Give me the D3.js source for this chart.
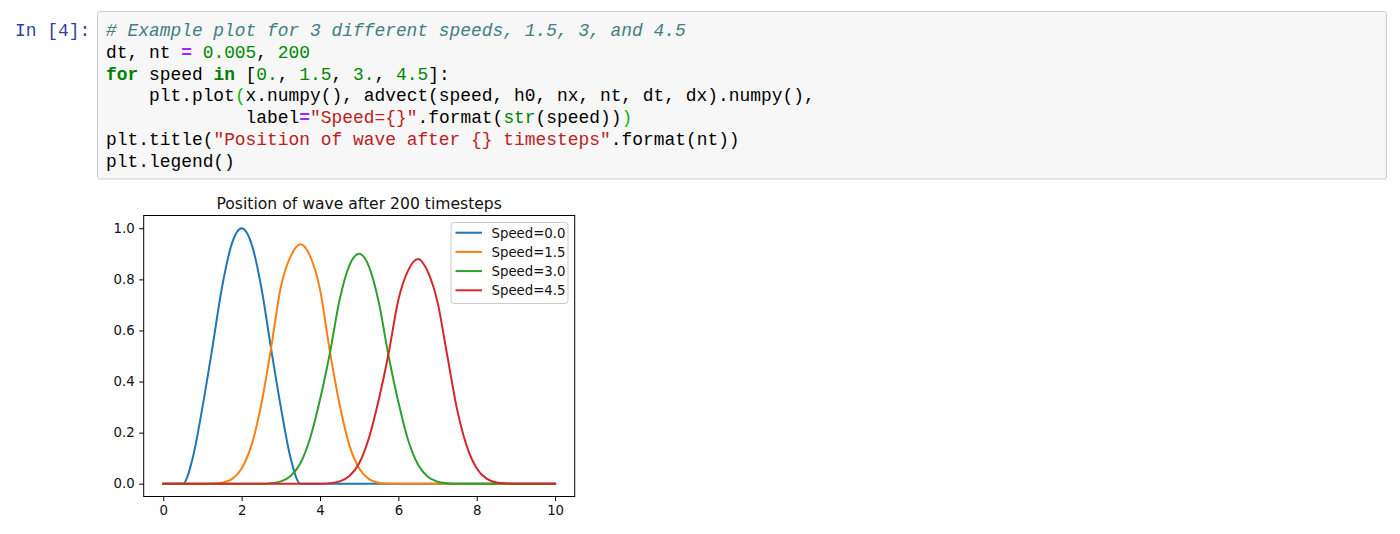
<!DOCTYPE html>
<html>
<head>
<meta charset="utf-8">
<script src="https://cdnjs.cloudflare.com/ajax/libs/d3/7.8.5/d3.min.js"></script>
<style>
body { margin: 0; background: #fff; }
svg text { white-space: pre; }
</style>
</head>
<body>
<svg id="page" width="1400" height="534"></svg>
<script>
// x grid of the plotted arrays
var xs = [0, 0.25, 0.5, 0.75, 1, 1.25, 1.5, 1.75, 2, 2.25, 2.5, 2.75, 3, 3.25, 3.5, 3.75,
          4, 4.25, 4.5, 4.75, 5, 5.25, 5.5, 5.75, 6, 6.25, 6.5, 6.75, 7, 7.25, 7.5, 7.75,
          8, 8.25, 8.5, 8.75, 9, 9.25, 9.5, 9.75, 10];

// wave height, one array per speed
var speed00 = [0, 0, 0, 0.10, 0.30, 0.53, 0.77, 0.94, 1.0, 0.94, 0.77, 0.53, 0.30, 0.10, 0,
               0, 0, 0, 0, 0, 0, 0, 0, 0, 0, 0, 0, 0, 0, 0, 0, 0, 0, 0, 0, 0, 0, 0, 0, 0, 0];
var speed15 = [0, 0, 0, 0, 0, 0.001, 0.004, 0.018, 0.06, 0.15, 0.31, 0.53, 0.77, 0.89, 0.937,
               0.89, 0.76, 0.52, 0.31, 0.15, 0.06, 0.018, 0.004, 0.001,
               0, 0, 0, 0, 0, 0, 0, 0, 0, 0, 0, 0, 0, 0, 0, 0, 0];
var speed30 = [0, 0, 0, 0, 0, 0, 0, 0, 0, 0, 0, 0.002, 0.009, 0.03, 0.08, 0.18, 0.33, 0.51,
               0.72, 0.855, 0.90, 0.85, 0.71, 0.50, 0.32, 0.17, 0.075, 0.027, 0.008, 0.002,
               0, 0, 0, 0, 0, 0, 0, 0, 0, 0, 0];
var speed45 = [0, 0, 0, 0, 0, 0, 0, 0, 0, 0, 0, 0, 0, 0, 0, 0, 0, 0.002, 0.009, 0.03, 0.08,
               0.18, 0.33, 0.51, 0.72, 0.835, 0.88, 0.83, 0.71, 0.50, 0.29, 0.145, 0.06,
               0.02, 0.005, 0.001, 0, 0, 0, 0, 0];

var seriesLabels = ["Speed=0.0", "Speed=1.5", "Speed=3.0", "Speed=4.5"];
var seriesValues = [speed00, speed15, speed30, speed45];
var seriesColors = ["#1f77b4", "#ff7f0e", "#2ca02c", "#d62728"];

var xTicks = [0, 2, 4, 6, 8, 10];
var yTicks = [0, 0.2, 0.4, 0.6, 0.8, 1.0];
var chartTitle = "Position of wave after 200 timesteps";

// code cell, split in highlight tokens
var promptText = "In [4]:";
var codeLines = [
    [["# Example plot for 3 different speeds, 1.5, 3, and 4.5", "cm"]],
    [["dt, nt ", ""], ["=", "op"], [" ", ""], ["0.005", "num"], [", ", ""], ["200", "num"]],
    [["for", "kw"], [" speed ", ""], ["in", "kw"], [" [", ""], ["0.", "num"], [", ", ""],
     ["1.5", "num"], [", ", ""], ["3.", "num"], [", ", ""], ["4.5", "num"], ["]:", ""]],
    [["    plt.plot", ""], ["(", "br"], ["x.numpy(), advect(speed, h0, nx, nt, dt, dx).numpy(),", ""]],
    [["             label", ""], ["=", "op"], ["\"Speed={}\"", "str"], [".format(", ""],
     ["str", "bi"], ["(speed))", ""], [")", "br"]],
    [["plt.title(", ""], ["\"Position of wave after {} timesteps\"", "str"], [".format(nt))", ""]],
    [["plt.legend()", ""]]
];

var tokenStyle = {
    "":    { fill: "#000000", weight: "normal", style: "normal" },
    "cm":  { fill: "#408080", weight: "normal", style: "italic" },
    "kw":  { fill: "#008000", weight: "bold",   style: "normal" },
    "num": { fill: "#008800", weight: "normal", style: "normal" },
    "op":  { fill: "#AA22FF", weight: "bold",   style: "normal" },
    "str": { fill: "#BA2121", weight: "normal", style: "normal" },
    "bi":  { fill: "#008000", weight: "normal", style: "normal" },
    "br":  { fill: "#00bb00", weight: "normal", style: "normal" }
};

var svg = d3.select("#page");

//---- the notebook cell
var charW = 10.74, lineH = 21.8, codeX = 106, firstBase = 36;
var mono = "'Liberation Mono', 'DejaVu Sans Mono', monospace";

svg.append("text")
    .attr("x", 15).attr("y", firstBase)
    .attr("font-family", mono).attr("font-size", 17.9)
    .attr("fill", "#303F9F")
    .text(promptText);

svg.append("rect")
    .attr("x", 97.5).attr("y", 11.5)
    .attr("width", 1289).attr("height", 167.5)
    .attr("rx", 2)
    .attr("fill", "#f7f7f7").attr("stroke", "#cfcfcf");

codeLines.forEach(function(tokens, i) {
    var t = svg.append("text")
        .attr("xml:space", "preserve")
        .attr("y", firstBase + i * lineH)
        .attr("font-family", mono).attr("font-size", 17.9);
    var col = 0;
    tokens.forEach(function(tk) {
        var s = tokenStyle[tk[1]];
        t.append("tspan")
            .attr("x", codeX + col * charW)
            .attr("fill", s.fill)
            .attr("font-weight", s.weight)
            .attr("font-style", s.style)
            .text(tk[0]);
        col += tk[0].length;
    });
});

//---- the matplotlib figure
var box = { left: 143.7, right: 574.7, top: 215.5, bottom: 496.5 };
var sans = "'DejaVu Sans', sans-serif";

var x = d3.scaleLinear().domain([-0.5, 10.5]).range([box.left, box.right]);
var y = d3.scaleLinear().domain([-0.05, 1.05]).range([box.bottom, box.top]);

svg.append("defs").append("clipPath").attr("id", "axclip")
    .append("rect")
    .attr("x", box.left).attr("y", box.top)
    .attr("width", box.right - box.left).attr("height", box.bottom - box.top);

var line = d3.line()
    .x(function(d) { return x(d[0]); })
    .y(function(d) { return y(d[1]); })
    .curve(d3.curveMonotoneX);

var plotG = svg.append("g").attr("clip-path", "url(#axclip)");
seriesValues.forEach(function(vals, k) {
    plotG.append("path")
        .datum(xs.map(function(xv, i) { return [xv, vals[i]]; }))
        .attr("fill", "none")
        .attr("stroke", seriesColors[k])
        .attr("stroke-width", 2)
        .attr("stroke-linejoin", "round")
        .attr("stroke-linecap", "square")
        .attr("d", line);
});

// axes
var xAxis = svg.append("g")
    .attr("transform", "translate(0," + box.bottom + ")")
    .call(d3.axisBottom(x).tickValues(xTicks).tickSize(4.5).tickPadding(4.5)
        .tickFormat(d3.format("d")));
var yAxis = svg.append("g")
    .attr("transform", "translate(" + box.left + ",0)")
    .call(d3.axisLeft(y).tickValues(yTicks).tickSize(4.5).tickPadding(4.5)
        .tickFormat(d3.format(".1f")));

[xAxis, yAxis].forEach(function(a) {
    a.select(".domain").remove();
    a.selectAll(".tick line").attr("stroke", "#000").attr("stroke-width", 1);
    a.selectAll(".tick text")
        .attr("font-family", sans).attr("font-size", 13.3).attr("fill", "#111");
});

// spines
svg.append("rect")
    .attr("x", box.left).attr("y", box.top)
    .attr("width", box.right - box.left).attr("height", box.bottom - box.top)
    .attr("fill", "none").attr("stroke", "#000").attr("stroke-width", 1);

// title
svg.append("text")
    .attr("x", (box.left + box.right) / 2).attr("y", 209)
    .attr("text-anchor", "middle")
    .attr("font-family", sans).attr("font-size", 15.6).attr("fill", "#111")
    .text(chartTitle);

// legend
var leg = svg.append("g");
leg.append("rect")
    .attr("x", 451).attr("y", 222.5)
    .attr("width", 117).attr("height", 81)
    .attr("rx", 3)
    .attr("fill", "#fff").attr("fill-opacity", 0.8)
    .attr("stroke", "#cccccc").attr("stroke-width", 1);

seriesLabels.forEach(function(lab, k) {
    var cy = 232.7 + k * 19.2;
    leg.append("line")
        .attr("x1", 455.5).attr("x2", 482)
        .attr("y1", cy).attr("y2", cy)
        .attr("stroke", seriesColors[k]).attr("stroke-width", 2);
    leg.append("text")
        .attr("x", 491.5).attr("y", cy + 4.8)
        .attr("font-family", sans).attr("font-size", 13.3).attr("fill", "#111")
        .text(lab);
});
</script>
</body>
</html>
